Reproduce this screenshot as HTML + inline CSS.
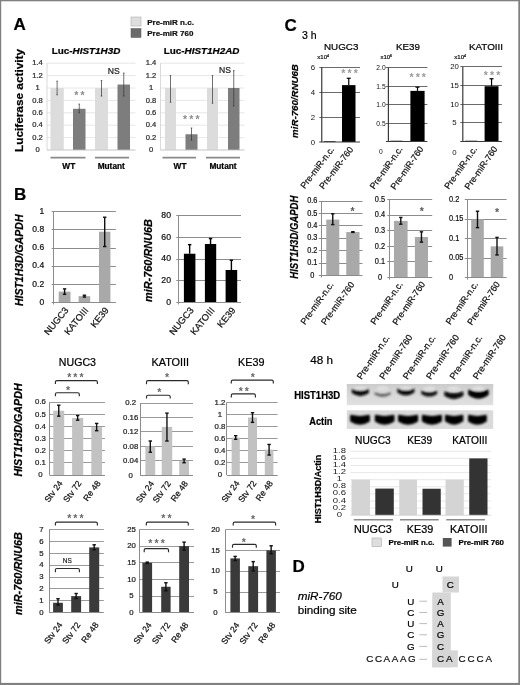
<!DOCTYPE html>
<html lang="en"><head><meta charset="utf-8"><title>Figure</title>
<style>html,body{margin:0;padding:0;background:#fff}svg{display:block}</style></head>
<body>
<svg width="520" height="685" viewBox="0 0 520 685" font-family='"Liberation Sans", sans-serif'>
<defs><filter id="b1" x="-20%" y="-50%" width="140%" height="200%"><feGaussianBlur stdDeviation="1.1"/></filter><filter id="b2" x="-20%" y="-50%" width="140%" height="200%"><feGaussianBlur stdDeviation="0.8"/></filter></defs>
<rect x="0.00" y="0.00" width="520.00" height="685.00" fill="#fff" />
<rect x="0.00" y="0.00" width="520.00" height="1.30" fill="#808080" />
<rect x="0.00" y="0.00" width="1.20" height="685.00" fill="#808080" />
<rect x="518.30" y="0.00" width="1.70" height="685.00" fill="#808080" />
<rect x="0.00" y="682.90" width="520.00" height="2.10" fill="#808080" />
<text x="13.50" y="29.50" font-size="17" text-anchor="start" fill="#000" stroke="#000" stroke-width="0.22" font-weight="bold" >A</text>
<rect x="131.00" y="17.00" width="10.00" height="9.00" fill="#dedede" stroke="#b0b0b0" stroke-width="0.6" />
<rect x="131.00" y="28.50" width="10.00" height="9.00" fill="#6b6b6b" stroke="#5a5a5a" stroke-width="0.5" />
<text x="147.20" y="24.50" font-size="8" text-anchor="start" fill="#111" stroke="#111" stroke-width="0.22" font-weight="bold" >Pre-miR n.c.</text>
<text x="147.20" y="36.10" font-size="8" text-anchor="start" fill="#111" stroke="#111" stroke-width="0.22" font-weight="bold" >Pre-miR 760</text>
<text x="22.70" y="100.50" font-size="11.8" text-anchor="middle" fill="#000" stroke="#000" stroke-width="0.22" font-weight="bold" transform="rotate(-90 22.70 100.50)" >Luciferase activity</text>
<line x1="47.00" y1="150.00" x2="135.50" y2="150.00" stroke="#e0e0e0" stroke-width="0.8" />
<text x="37.50" y="152.20" font-size="7.6" text-anchor="middle" fill="#2a2a2a" stroke="#2a2a2a" stroke-width="0.22" >0</text>
<line x1="47.00" y1="137.60" x2="135.50" y2="137.60" stroke="#e0e0e0" stroke-width="0.8" />
<text x="37.50" y="139.80" font-size="7.6" text-anchor="middle" fill="#2a2a2a" stroke="#2a2a2a" stroke-width="0.22" >0.2</text>
<line x1="47.00" y1="125.20" x2="135.50" y2="125.20" stroke="#e0e0e0" stroke-width="0.8" />
<text x="37.50" y="127.40" font-size="7.6" text-anchor="middle" fill="#2a2a2a" stroke="#2a2a2a" stroke-width="0.22" >0.4</text>
<line x1="47.00" y1="112.80" x2="135.50" y2="112.80" stroke="#e0e0e0" stroke-width="0.8" />
<text x="37.50" y="115.00" font-size="7.6" text-anchor="middle" fill="#2a2a2a" stroke="#2a2a2a" stroke-width="0.22" >0.6</text>
<line x1="47.00" y1="100.40" x2="135.50" y2="100.40" stroke="#e0e0e0" stroke-width="0.8" />
<text x="37.50" y="102.60" font-size="7.6" text-anchor="middle" fill="#2a2a2a" stroke="#2a2a2a" stroke-width="0.22" >0.8</text>
<line x1="47.00" y1="88.00" x2="135.50" y2="88.00" stroke="#e0e0e0" stroke-width="0.8" />
<text x="37.50" y="90.20" font-size="7.6" text-anchor="middle" fill="#2a2a2a" stroke="#2a2a2a" stroke-width="0.22" >1</text>
<line x1="47.00" y1="75.60" x2="135.50" y2="75.60" stroke="#e0e0e0" stroke-width="0.8" />
<text x="37.50" y="77.80" font-size="7.6" text-anchor="middle" fill="#2a2a2a" stroke="#2a2a2a" stroke-width="0.22" >1.2</text>
<line x1="47.00" y1="63.20" x2="135.50" y2="63.20" stroke="#e0e0e0" stroke-width="0.8" />
<text x="37.50" y="65.40" font-size="7.6" text-anchor="middle" fill="#2a2a2a" stroke="#2a2a2a" stroke-width="0.22" >1.4</text>
<line x1="47.00" y1="63.20" x2="47.00" y2="150.00" stroke="#d0d0d0" stroke-width="0.8" />
<rect x="50.50" y="88.00" width="13.25" height="62.00" fill="#dcdcdc" />
<line x1="57.12" y1="81.18" x2="57.12" y2="94.82" stroke="#333" stroke-width="0.7" />
<line x1="56.33" y1="81.18" x2="57.92" y2="81.18" stroke="#333" stroke-width="0.7" />
<line x1="56.33" y1="94.82" x2="57.92" y2="94.82" stroke="#333" stroke-width="0.7" />
<rect x="73.00" y="108.77" width="12.50" height="41.23" fill="#7d7d7d" />
<line x1="79.25" y1="104.12" x2="79.25" y2="112.80" stroke="#333" stroke-width="0.7" />
<line x1="78.45" y1="104.12" x2="80.05" y2="104.12" stroke="#333" stroke-width="0.7" />
<line x1="78.45" y1="112.80" x2="80.05" y2="112.80" stroke="#333" stroke-width="0.7" />
<rect x="95.00" y="88.00" width="13.00" height="62.00" fill="#dcdcdc" />
<line x1="101.50" y1="80.56" x2="101.50" y2="96.06" stroke="#333" stroke-width="0.7" />
<line x1="100.70" y1="80.56" x2="102.30" y2="80.56" stroke="#333" stroke-width="0.7" />
<line x1="100.70" y1="96.06" x2="102.30" y2="96.06" stroke="#333" stroke-width="0.7" />
<rect x="117.50" y="84.53" width="12.50" height="65.47" fill="#7d7d7d" />
<line x1="123.75" y1="73.12" x2="123.75" y2="96.06" stroke="#333" stroke-width="0.7" />
<line x1="122.95" y1="73.12" x2="124.55" y2="73.12" stroke="#333" stroke-width="0.7" />
<line x1="122.95" y1="96.06" x2="124.55" y2="96.06" stroke="#333" stroke-width="0.7" />
<line x1="47.00" y1="150.00" x2="135.50" y2="150.00" stroke="#c8c8c8" stroke-width="0.8" />
<text x="86.00" y="54.30" font-size="9.9" text-anchor="middle" fill="#000" stroke="#000" stroke-width="0.22" font-weight="bold" >Luc-<tspan font-style="italic">HIST1H3D</tspan></text>
<line x1="50.50" y1="157.60" x2="85.50" y2="157.60" stroke="#8a8a8a" stroke-width="1.6" />
<line x1="95.00" y1="157.60" x2="129.00" y2="157.60" stroke="#8a8a8a" stroke-width="1.6" />
<text x="68.75" y="169.00" font-size="8.3" text-anchor="middle" fill="#000" stroke="#000" stroke-width="0.22" font-weight="bold" >WT</text>
<text x="111.25" y="169.00" font-size="8.3" text-anchor="middle" fill="#000" stroke="#000" stroke-width="0.22" font-weight="bold" >Mutant</text>
<text x="113.70" y="73.60" font-size="8.6" text-anchor="middle" fill="#222" stroke="#222" stroke-width="0.22" >NS</text>
<text x="80.55" y="99.31" font-size="10.5" text-anchor="middle" fill="#8a8a8a" font-weight="bold" letter-spacing="2.1" stroke-width="0">**</text>
<line x1="160.50" y1="150.00" x2="244.50" y2="150.00" stroke="#e0e0e0" stroke-width="0.8" />
<text x="151.00" y="152.20" font-size="7.6" text-anchor="middle" fill="#2a2a2a" stroke="#2a2a2a" stroke-width="0.22" >0</text>
<line x1="160.50" y1="137.60" x2="244.50" y2="137.60" stroke="#e0e0e0" stroke-width="0.8" />
<text x="151.00" y="139.80" font-size="7.6" text-anchor="middle" fill="#2a2a2a" stroke="#2a2a2a" stroke-width="0.22" >0.2</text>
<line x1="160.50" y1="125.20" x2="244.50" y2="125.20" stroke="#e0e0e0" stroke-width="0.8" />
<text x="151.00" y="127.40" font-size="7.6" text-anchor="middle" fill="#2a2a2a" stroke="#2a2a2a" stroke-width="0.22" >0.4</text>
<line x1="160.50" y1="112.80" x2="244.50" y2="112.80" stroke="#e0e0e0" stroke-width="0.8" />
<text x="151.00" y="115.00" font-size="7.6" text-anchor="middle" fill="#2a2a2a" stroke="#2a2a2a" stroke-width="0.22" >0.6</text>
<line x1="160.50" y1="100.40" x2="244.50" y2="100.40" stroke="#e0e0e0" stroke-width="0.8" />
<text x="151.00" y="102.60" font-size="7.6" text-anchor="middle" fill="#2a2a2a" stroke="#2a2a2a" stroke-width="0.22" >0.8</text>
<line x1="160.50" y1="88.00" x2="244.50" y2="88.00" stroke="#e0e0e0" stroke-width="0.8" />
<text x="151.00" y="90.20" font-size="7.6" text-anchor="middle" fill="#2a2a2a" stroke="#2a2a2a" stroke-width="0.22" >1</text>
<line x1="160.50" y1="75.60" x2="244.50" y2="75.60" stroke="#e0e0e0" stroke-width="0.8" />
<text x="151.00" y="77.80" font-size="7.6" text-anchor="middle" fill="#2a2a2a" stroke="#2a2a2a" stroke-width="0.22" >1.2</text>
<line x1="160.50" y1="63.20" x2="244.50" y2="63.20" stroke="#e0e0e0" stroke-width="0.8" />
<text x="151.00" y="65.40" font-size="7.6" text-anchor="middle" fill="#2a2a2a" stroke="#2a2a2a" stroke-width="0.22" >1.4</text>
<line x1="160.50" y1="63.20" x2="160.50" y2="150.00" stroke="#d0d0d0" stroke-width="0.8" />
<rect x="165.00" y="88.00" width="11.00" height="62.00" fill="#dcdcdc" />
<line x1="170.50" y1="75.60" x2="170.50" y2="102.26" stroke="#333" stroke-width="0.7" />
<line x1="169.70" y1="75.60" x2="171.30" y2="75.60" stroke="#333" stroke-width="0.7" />
<line x1="169.70" y1="102.26" x2="171.30" y2="102.26" stroke="#333" stroke-width="0.7" />
<rect x="185.50" y="134.25" width="12.00" height="15.75" fill="#7d7d7d" />
<line x1="191.50" y1="127.99" x2="191.50" y2="140.08" stroke="#333" stroke-width="0.7" />
<line x1="190.70" y1="127.99" x2="192.30" y2="127.99" stroke="#333" stroke-width="0.7" />
<line x1="190.70" y1="140.08" x2="192.30" y2="140.08" stroke="#333" stroke-width="0.7" />
<rect x="207.00" y="88.00" width="11.00" height="62.00" fill="#dcdcdc" />
<line x1="212.50" y1="75.60" x2="212.50" y2="103.19" stroke="#333" stroke-width="0.7" />
<line x1="211.70" y1="75.60" x2="213.30" y2="75.60" stroke="#333" stroke-width="0.7" />
<line x1="211.70" y1="103.19" x2="213.30" y2="103.19" stroke="#333" stroke-width="0.7" />
<rect x="228.00" y="88.00" width="11.50" height="62.00" fill="#7d7d7d" />
<line x1="233.75" y1="70.64" x2="233.75" y2="105.98" stroke="#333" stroke-width="0.7" />
<line x1="232.95" y1="70.64" x2="234.55" y2="70.64" stroke="#333" stroke-width="0.7" />
<line x1="232.95" y1="105.98" x2="234.55" y2="105.98" stroke="#333" stroke-width="0.7" />
<line x1="160.50" y1="150.00" x2="244.50" y2="150.00" stroke="#c8c8c8" stroke-width="0.8" />
<text x="201.60" y="54.30" font-size="9.9" text-anchor="middle" fill="#000" stroke="#000" stroke-width="0.22" font-weight="bold" >Luc-<tspan font-style="italic">HIST1H2AD</tspan></text>
<line x1="162.50" y1="157.60" x2="196.00" y2="157.60" stroke="#8a8a8a" stroke-width="1.6" />
<line x1="206.00" y1="157.60" x2="240.00" y2="157.60" stroke="#8a8a8a" stroke-width="1.6" />
<text x="180.00" y="169.00" font-size="8.3" text-anchor="middle" fill="#000" stroke="#000" stroke-width="0.22" font-weight="bold" >WT</text>
<text x="223.00" y="169.00" font-size="8.3" text-anchor="middle" fill="#000" stroke="#000" stroke-width="0.22" font-weight="bold" >Mutant</text>
<text x="225.00" y="73.10" font-size="8.6" text-anchor="middle" fill="#222" stroke="#222" stroke-width="0.22" >NS</text>
<text x="192.30" y="123.06" font-size="10.5" text-anchor="middle" fill="#8a8a8a" font-weight="bold" letter-spacing="2.1" stroke-width="0">***</text>
<text x="14.00" y="200.20" font-size="17" text-anchor="start" fill="#000" stroke="#000" stroke-width="0.22" font-weight="bold" >B</text>
<text x="23.20" y="260.30" font-size="10.5" text-anchor="middle" fill="#000" stroke="#000" stroke-width="0.22" font-weight="bold" font-style="italic" transform="rotate(-90 23.20 260.30)" >HIST1H3D/GAPDH</text>
<text x="44.20" y="304.70" font-size="8.5" text-anchor="end" fill="#111" stroke="#111" stroke-width="0.22" >0</text>
<line x1="51.70" y1="284.50" x2="115.80" y2="284.50" stroke="#8c8c8c" stroke-width="1.0" />
<text x="44.20" y="286.56" font-size="8.5" text-anchor="end" fill="#111" stroke="#111" stroke-width="0.22" >0.2</text>
<line x1="51.70" y1="266.50" x2="115.80" y2="266.50" stroke="#8c8c8c" stroke-width="1.0" />
<text x="44.20" y="268.42" font-size="8.5" text-anchor="end" fill="#111" stroke="#111" stroke-width="0.22" >0.4</text>
<line x1="51.70" y1="248.50" x2="115.80" y2="248.50" stroke="#8c8c8c" stroke-width="1.0" />
<text x="44.20" y="250.28" font-size="8.5" text-anchor="end" fill="#111" stroke="#111" stroke-width="0.22" >0.6</text>
<line x1="51.70" y1="229.50" x2="115.80" y2="229.50" stroke="#8c8c8c" stroke-width="1.0" />
<text x="44.20" y="232.14" font-size="8.5" text-anchor="end" fill="#111" stroke="#111" stroke-width="0.22" >0.8</text>
<line x1="51.70" y1="211.50" x2="115.80" y2="211.50" stroke="#8c8c8c" stroke-width="1.0" />
<text x="44.20" y="214.00" font-size="8.5" text-anchor="end" fill="#111" stroke="#111" stroke-width="0.22" >1</text>
<rect x="58.70" y="291.62" width="11.80" height="10.88" fill="#a9a9a9" />
<line x1="64.60" y1="288.89" x2="64.60" y2="294.34" stroke="#111" stroke-width="1.4" />
<line x1="62.90" y1="288.89" x2="66.30" y2="288.89" stroke="#111" stroke-width="1.4" />
<line x1="62.90" y1="294.34" x2="66.30" y2="294.34" stroke="#111" stroke-width="1.4" />
<text x="69.10" y="310.50" font-size="9.3" text-anchor="end" fill="#111" stroke="#111" stroke-width="0.22" transform="rotate(-51 69.10 310.50)" >NUGC3</text>
<rect x="78.60" y="296.15" width="11.60" height="6.35" fill="#a9a9a9" />
<line x1="84.40" y1="295.24" x2="84.40" y2="297.06" stroke="#111" stroke-width="1.4" />
<line x1="82.70" y1="295.24" x2="86.10" y2="295.24" stroke="#111" stroke-width="1.4" />
<line x1="82.70" y1="297.06" x2="86.10" y2="297.06" stroke="#111" stroke-width="1.4" />
<text x="88.90" y="310.50" font-size="9.3" text-anchor="end" fill="#111" stroke="#111" stroke-width="0.22" transform="rotate(-51 88.90 310.50)" >KATOIII</text>
<rect x="99.00" y="231.75" width="11.40" height="70.75" fill="#a9a9a9" />
<line x1="104.70" y1="217.24" x2="104.70" y2="246.54" stroke="#111" stroke-width="1.4" />
<line x1="103.00" y1="217.24" x2="106.40" y2="217.24" stroke="#111" stroke-width="1.4" />
<line x1="103.00" y1="246.54" x2="106.40" y2="246.54" stroke="#111" stroke-width="1.4" />
<text x="109.20" y="310.50" font-size="9.3" text-anchor="end" fill="#111" stroke="#111" stroke-width="0.22" transform="rotate(-51 109.20 310.50)" >KE39</text>
<line x1="53.50" y1="211.80" x2="53.50" y2="304.50" stroke="#8c8c8c" stroke-width="1.0" />
<line x1="51.70" y1="302.50" x2="115.80" y2="302.50" stroke="#8c8c8c" stroke-width="1.0" />
<text x="152.00" y="260.50" font-size="10.9" text-anchor="middle" fill="#000" stroke="#000" stroke-width="0.22" font-weight="bold" font-style="italic" transform="rotate(-90 152.00 260.50)" >miR-760/RNU6B</text>
<text x="171.00" y="304.70" font-size="8.7" text-anchor="end" fill="#111" stroke="#111" stroke-width="0.22" >0</text>
<line x1="176.30" y1="280.50" x2="241.00" y2="280.50" stroke="#8c8c8c" stroke-width="1.0" />
<text x="171.00" y="283.02" font-size="8.7" text-anchor="end" fill="#111" stroke="#111" stroke-width="0.22" >20</text>
<line x1="176.30" y1="259.50" x2="241.00" y2="259.50" stroke="#8c8c8c" stroke-width="1.0" />
<text x="171.00" y="261.35" font-size="8.7" text-anchor="end" fill="#111" stroke="#111" stroke-width="0.22" >40</text>
<line x1="176.30" y1="237.50" x2="241.00" y2="237.50" stroke="#8c8c8c" stroke-width="1.0" />
<text x="171.00" y="239.68" font-size="8.7" text-anchor="end" fill="#111" stroke="#111" stroke-width="0.22" >60</text>
<line x1="176.30" y1="215.50" x2="241.00" y2="215.50" stroke="#8c8c8c" stroke-width="1.0" />
<text x="171.00" y="218.00" font-size="8.7" text-anchor="end" fill="#111" stroke="#111" stroke-width="0.22" >80</text>
<rect x="183.90" y="253.73" width="11.50" height="48.77" fill="#000" />
<line x1="189.65" y1="244.63" x2="189.65" y2="253.73" stroke="#000" stroke-width="1.4" />
<line x1="187.95" y1="244.63" x2="191.35" y2="244.63" stroke="#000" stroke-width="1.4" />
<text x="194.15" y="310.50" font-size="9.3" text-anchor="end" fill="#111" stroke="#111" stroke-width="0.22" transform="rotate(-51 194.15 310.50)" >NUGC3</text>
<rect x="204.90" y="243.98" width="11.30" height="58.52" fill="#000" />
<line x1="210.55" y1="238.56" x2="210.55" y2="243.98" stroke="#000" stroke-width="1.4" />
<line x1="208.85" y1="238.56" x2="212.25" y2="238.56" stroke="#000" stroke-width="1.4" />
<text x="215.05" y="310.50" font-size="9.3" text-anchor="end" fill="#111" stroke="#111" stroke-width="0.22" transform="rotate(-51 215.05 310.50)" >KATOIII</text>
<rect x="225.60" y="269.99" width="11.60" height="32.51" fill="#000" />
<line x1="231.40" y1="260.23" x2="231.40" y2="269.99" stroke="#000" stroke-width="1.4" />
<line x1="229.70" y1="260.23" x2="233.10" y2="260.23" stroke="#000" stroke-width="1.4" />
<text x="235.90" y="310.50" font-size="9.3" text-anchor="end" fill="#111" stroke="#111" stroke-width="0.22" transform="rotate(-51 235.90 310.50)" >KE39</text>
<line x1="178.50" y1="215.80" x2="178.50" y2="304.50" stroke="#8c8c8c" stroke-width="1.0" />
<line x1="176.30" y1="302.50" x2="241.00" y2="302.50" stroke="#8c8c8c" stroke-width="1.0" />
<text x="77.40" y="366.00" font-size="10.6" text-anchor="middle" fill="#000" stroke="#000" stroke-width="0.22" >NUGC3</text>
<text x="170.30" y="366.00" font-size="10.9" text-anchor="middle" fill="#000" stroke="#000" stroke-width="0.22" >KATOIII</text>
<text x="251.30" y="366.00" font-size="10.8" text-anchor="middle" fill="#000" stroke="#000" stroke-width="0.22" >KE39</text>
<text x="22.00" y="430.00" font-size="10.7" text-anchor="middle" fill="#000" stroke="#000" stroke-width="0.22" font-weight="bold" font-style="italic" transform="rotate(-90 22.00 430.00)" >HIST1H3D/GAPDH</text>
<text x="40.50" y="477.20" font-size="7.8" text-anchor="middle" fill="#222" stroke="#222" stroke-width="0.22" >0</text>
<line x1="49.60" y1="462.50" x2="105.00" y2="462.50" stroke="#9a9a9a" stroke-width="1.0" />
<text x="40.50" y="465.07" font-size="7.8" text-anchor="middle" fill="#222" stroke="#222" stroke-width="0.22" >0.1</text>
<line x1="49.60" y1="450.50" x2="105.00" y2="450.50" stroke="#9a9a9a" stroke-width="1.0" />
<text x="40.50" y="452.93" font-size="7.8" text-anchor="middle" fill="#222" stroke="#222" stroke-width="0.22" >0.2</text>
<line x1="49.60" y1="438.50" x2="105.00" y2="438.50" stroke="#9a9a9a" stroke-width="1.0" />
<text x="40.50" y="440.80" font-size="7.8" text-anchor="middle" fill="#222" stroke="#222" stroke-width="0.22" >0.3</text>
<line x1="49.60" y1="426.50" x2="105.00" y2="426.50" stroke="#9a9a9a" stroke-width="1.0" />
<text x="40.50" y="428.67" font-size="7.8" text-anchor="middle" fill="#222" stroke="#222" stroke-width="0.22" >0.4</text>
<line x1="49.60" y1="414.50" x2="105.00" y2="414.50" stroke="#9a9a9a" stroke-width="1.0" />
<text x="40.50" y="416.53" font-size="7.8" text-anchor="middle" fill="#222" stroke="#222" stroke-width="0.22" >0.5</text>
<line x1="49.60" y1="402.50" x2="105.00" y2="402.50" stroke="#9a9a9a" stroke-width="1.0" />
<text x="40.50" y="404.40" font-size="7.8" text-anchor="middle" fill="#222" stroke="#222" stroke-width="0.22" >0.6</text>
<rect x="53.30" y="410.69" width="10.90" height="64.31" fill="#c2c2c2" />
<line x1="58.75" y1="405.23" x2="58.75" y2="416.15" stroke="#111" stroke-width="1.4" />
<line x1="57.05" y1="405.23" x2="60.45" y2="405.23" stroke="#111" stroke-width="1.4" />
<line x1="57.05" y1="416.15" x2="60.45" y2="416.15" stroke="#111" stroke-width="1.4" />
<text x="63.05" y="483.30" font-size="8.6" text-anchor="end" fill="#111" stroke="#111" stroke-width="0.22" transform="rotate(-54 63.05 483.30)" >Stv 24</text>
<rect x="72.10" y="417.97" width="11.10" height="57.03" fill="#c2c2c2" />
<line x1="77.65" y1="415.55" x2="77.65" y2="420.16" stroke="#111" stroke-width="1.4" />
<line x1="75.95" y1="415.55" x2="79.35" y2="415.55" stroke="#111" stroke-width="1.4" />
<line x1="75.95" y1="420.16" x2="79.35" y2="420.16" stroke="#111" stroke-width="1.4" />
<text x="81.95" y="483.30" font-size="8.6" text-anchor="end" fill="#111" stroke="#111" stroke-width="0.22" transform="rotate(-54 81.95 483.30)" >Stv 72</text>
<rect x="91.30" y="427.07" width="10.70" height="47.93" fill="#c2c2c2" />
<line x1="96.65" y1="423.43" x2="96.65" y2="430.71" stroke="#111" stroke-width="1.4" />
<line x1="94.95" y1="423.43" x2="98.35" y2="423.43" stroke="#111" stroke-width="1.4" />
<line x1="94.95" y1="430.71" x2="98.35" y2="430.71" stroke="#111" stroke-width="1.4" />
<text x="100.95" y="483.30" font-size="8.6" text-anchor="end" fill="#111" stroke="#111" stroke-width="0.22" transform="rotate(-54 100.95 483.30)" >Re 48</text>
<line x1="49.50" y1="402.20" x2="49.50" y2="475.00" stroke="#8c8c8c" stroke-width="1.0" />
<line x1="49.60" y1="475.50" x2="105.00" y2="475.50" stroke="#8c8c8c" stroke-width="1.0" />
<path d="M55.40 384.10 V382.10 Q55.40 380.60 56.90 380.60 H95.90 Q97.40 380.60 97.40 382.10 V384.10" fill="none" stroke="#2a2a2a" stroke-width="1.15"/>
<text x="76.45" y="380.96" font-size="10.5" text-anchor="middle" fill="#666" font-weight="bold" letter-spacing="2.1" stroke-width="0">***</text>
<path d="M55.40 396.20 V394.20 Q55.40 392.70 56.90 392.70 H77.80 Q79.30 392.70 79.30 394.20 V396.20" fill="none" stroke="#2a2a2a" stroke-width="1.15"/>
<text x="69.15" y="393.96" font-size="10.5" text-anchor="middle" fill="#666" font-weight="bold" letter-spacing="2.1" stroke-width="0">*</text>
<text x="130.70" y="477.60" font-size="7.8" text-anchor="middle" fill="#222" stroke="#222" stroke-width="0.22" >0</text>
<line x1="140.20" y1="460.50" x2="193.00" y2="460.50" stroke="#9a9a9a" stroke-width="1.0" />
<text x="130.70" y="463.12" font-size="7.8" text-anchor="middle" fill="#222" stroke="#222" stroke-width="0.22" >0.04</text>
<line x1="140.20" y1="446.50" x2="193.00" y2="446.50" stroke="#9a9a9a" stroke-width="1.0" />
<text x="130.70" y="448.64" font-size="7.8" text-anchor="middle" fill="#222" stroke="#222" stroke-width="0.22" >0.08</text>
<line x1="140.20" y1="431.50" x2="193.00" y2="431.50" stroke="#9a9a9a" stroke-width="1.0" />
<text x="130.70" y="434.16" font-size="7.8" text-anchor="middle" fill="#222" stroke="#222" stroke-width="0.22" >0.12</text>
<line x1="140.20" y1="417.50" x2="193.00" y2="417.50" stroke="#9a9a9a" stroke-width="1.0" />
<text x="130.70" y="419.68" font-size="7.8" text-anchor="middle" fill="#222" stroke="#222" stroke-width="0.22" >0.16</text>
<line x1="140.20" y1="403.50" x2="193.00" y2="403.50" stroke="#9a9a9a" stroke-width="1.0" />
<text x="130.70" y="405.20" font-size="7.8" text-anchor="middle" fill="#222" stroke="#222" stroke-width="0.22" >0.2</text>
<rect x="145.40" y="446.44" width="9.80" height="28.96" fill="#c2c2c2" />
<line x1="150.30" y1="441.01" x2="150.30" y2="452.23" stroke="#111" stroke-width="1.4" />
<line x1="148.60" y1="441.01" x2="152.00" y2="441.01" stroke="#111" stroke-width="1.4" />
<line x1="148.60" y1="452.23" x2="152.00" y2="452.23" stroke="#111" stroke-width="1.4" />
<text x="154.60" y="483.70" font-size="8.6" text-anchor="end" fill="#111" stroke="#111" stroke-width="0.22" transform="rotate(-54 154.60 483.70)" >Stv 24</text>
<rect x="161.70" y="426.89" width="10.50" height="48.51" fill="#c2c2c2" />
<line x1="166.95" y1="413.14" x2="166.95" y2="441.01" stroke="#111" stroke-width="1.4" />
<line x1="165.25" y1="413.14" x2="168.65" y2="413.14" stroke="#111" stroke-width="1.4" />
<line x1="165.25" y1="441.01" x2="168.65" y2="441.01" stroke="#111" stroke-width="1.4" />
<text x="171.25" y="483.70" font-size="8.6" text-anchor="end" fill="#111" stroke="#111" stroke-width="0.22" transform="rotate(-54 171.25 483.70)" >Stv 72</text>
<rect x="179.20" y="460.92" width="9.80" height="14.48" fill="#c2c2c2" />
<line x1="184.10" y1="459.11" x2="184.10" y2="462.73" stroke="#111" stroke-width="1.4" />
<line x1="182.40" y1="459.11" x2="185.80" y2="459.11" stroke="#111" stroke-width="1.4" />
<line x1="182.40" y1="462.73" x2="185.80" y2="462.73" stroke="#111" stroke-width="1.4" />
<text x="188.40" y="483.70" font-size="8.6" text-anchor="end" fill="#111" stroke="#111" stroke-width="0.22" transform="rotate(-54 188.40 483.70)" >Re 48</text>
<line x1="140.50" y1="403.00" x2="140.50" y2="475.40" stroke="#8c8c8c" stroke-width="1.0" />
<line x1="140.20" y1="475.50" x2="193.00" y2="475.50" stroke="#8c8c8c" stroke-width="1.0" />
<path d="M146.50 384.20 V382.10 Q146.50 380.60 148.00 380.60 H186.80 Q188.30 380.60 188.30 382.10 V384.20" fill="none" stroke="#2a2a2a" stroke-width="1.15"/>
<text x="168.15" y="380.96" font-size="10.5" text-anchor="middle" fill="#666" font-weight="bold" letter-spacing="2.1" stroke-width="0">*</text>
<path d="M146.50 398.50 V396.70 Q146.50 395.20 148.00 395.20 H168.70 Q170.20 395.20 170.20 396.70 V398.50" fill="none" stroke="#2a2a2a" stroke-width="1.15"/>
<text x="160.45" y="395.76" font-size="10.5" text-anchor="middle" fill="#666" font-weight="bold" letter-spacing="2.1" stroke-width="0">*</text>
<text x="220.00" y="477.20" font-size="7.8" text-anchor="middle" fill="#222" stroke="#222" stroke-width="0.22" >0</text>
<line x1="226.90" y1="462.50" x2="277.60" y2="462.50" stroke="#9a9a9a" stroke-width="1.0" />
<text x="220.00" y="465.10" font-size="7.8" text-anchor="middle" fill="#222" stroke="#222" stroke-width="0.22" >0.2</text>
<line x1="226.90" y1="450.50" x2="277.60" y2="450.50" stroke="#9a9a9a" stroke-width="1.0" />
<text x="220.00" y="453.00" font-size="7.8" text-anchor="middle" fill="#222" stroke="#222" stroke-width="0.22" >0.4</text>
<line x1="226.90" y1="438.50" x2="277.60" y2="438.50" stroke="#9a9a9a" stroke-width="1.0" />
<text x="220.00" y="440.90" font-size="7.8" text-anchor="middle" fill="#222" stroke="#222" stroke-width="0.22" >0.6</text>
<line x1="226.90" y1="426.50" x2="277.60" y2="426.50" stroke="#9a9a9a" stroke-width="1.0" />
<text x="220.00" y="428.80" font-size="7.8" text-anchor="middle" fill="#222" stroke="#222" stroke-width="0.22" >0.8</text>
<line x1="226.90" y1="414.50" x2="277.60" y2="414.50" stroke="#9a9a9a" stroke-width="1.0" />
<text x="220.00" y="416.70" font-size="7.8" text-anchor="middle" fill="#222" stroke="#222" stroke-width="0.22" >1</text>
<line x1="226.90" y1="402.50" x2="277.60" y2="402.50" stroke="#9a9a9a" stroke-width="1.0" />
<text x="220.00" y="404.60" font-size="7.8" text-anchor="middle" fill="#222" stroke="#222" stroke-width="0.22" >1.2</text>
<rect x="231.60" y="437.49" width="8.20" height="37.51" fill="#c2c2c2" />
<line x1="235.70" y1="435.67" x2="235.70" y2="439.31" stroke="#111" stroke-width="1.4" />
<line x1="234.00" y1="435.67" x2="237.40" y2="435.67" stroke="#111" stroke-width="1.4" />
<line x1="234.00" y1="439.31" x2="237.40" y2="439.31" stroke="#111" stroke-width="1.4" />
<text x="240.00" y="483.30" font-size="8.6" text-anchor="end" fill="#111" stroke="#111" stroke-width="0.22" transform="rotate(-54 240.00 483.30)" >Stv 24</text>
<rect x="248.00" y="417.52" width="9.00" height="57.48" fill="#c2c2c2" />
<line x1="252.50" y1="412.68" x2="252.50" y2="422.37" stroke="#111" stroke-width="1.4" />
<line x1="250.80" y1="412.68" x2="254.20" y2="412.68" stroke="#111" stroke-width="1.4" />
<line x1="250.80" y1="422.37" x2="254.20" y2="422.37" stroke="#111" stroke-width="1.4" />
<text x="256.80" y="483.30" font-size="8.6" text-anchor="end" fill="#111" stroke="#111" stroke-width="0.22" transform="rotate(-54 256.80 483.30)" >Stv 72</text>
<rect x="264.80" y="449.59" width="8.60" height="25.41" fill="#c2c2c2" />
<line x1="269.10" y1="444.45" x2="269.10" y2="455.03" stroke="#111" stroke-width="1.4" />
<line x1="267.40" y1="444.45" x2="270.80" y2="444.45" stroke="#111" stroke-width="1.4" />
<line x1="267.40" y1="455.03" x2="270.80" y2="455.03" stroke="#111" stroke-width="1.4" />
<text x="273.40" y="483.30" font-size="8.6" text-anchor="end" fill="#111" stroke="#111" stroke-width="0.22" transform="rotate(-54 273.40 483.30)" >Re 48</text>
<line x1="226.50" y1="402.40" x2="226.50" y2="475.00" stroke="#8c8c8c" stroke-width="1.0" />
<line x1="226.90" y1="475.50" x2="277.60" y2="475.50" stroke="#8c8c8c" stroke-width="1.0" />
<path d="M231.30 383.60 V381.60 Q231.30 380.10 232.80 380.10 H271.80 Q273.30 380.10 273.30 381.60 V383.60" fill="none" stroke="#2a2a2a" stroke-width="1.15"/>
<text x="253.95" y="380.96" font-size="10.5" text-anchor="middle" fill="#666" font-weight="bold" letter-spacing="2.1" stroke-width="0">*</text>
<path d="M231.30 397.50 V395.40 Q231.30 393.90 232.80 393.90 H253.90 Q255.40 393.90 255.40 395.40 V397.50" fill="none" stroke="#2a2a2a" stroke-width="1.15"/>
<text x="244.85" y="395.06" font-size="10.5" text-anchor="middle" fill="#666" font-weight="bold" letter-spacing="2.1" stroke-width="0">**</text>
<text x="22.00" y="573.50" font-size="10.9" text-anchor="middle" fill="#000" stroke="#000" stroke-width="0.22" font-weight="bold" font-style="italic" transform="rotate(-90 22.00 573.50)" >miR-760/RNU6B</text>
<text x="41.50" y="614.80" font-size="7.8" text-anchor="middle" fill="#222" stroke="#222" stroke-width="0.22" >0</text>
<line x1="49.00" y1="600.50" x2="103.80" y2="600.50" stroke="#9a9a9a" stroke-width="1.0" />
<text x="41.50" y="602.94" font-size="7.8" text-anchor="middle" fill="#222" stroke="#222" stroke-width="0.22" >1</text>
<line x1="49.00" y1="588.50" x2="103.80" y2="588.50" stroke="#9a9a9a" stroke-width="1.0" />
<text x="41.50" y="591.09" font-size="7.8" text-anchor="middle" fill="#222" stroke="#222" stroke-width="0.22" >2</text>
<line x1="49.00" y1="577.50" x2="103.80" y2="577.50" stroke="#9a9a9a" stroke-width="1.0" />
<text x="41.50" y="579.23" font-size="7.8" text-anchor="middle" fill="#222" stroke="#222" stroke-width="0.22" >3</text>
<line x1="49.00" y1="565.50" x2="103.80" y2="565.50" stroke="#9a9a9a" stroke-width="1.0" />
<text x="41.50" y="567.37" font-size="7.8" text-anchor="middle" fill="#222" stroke="#222" stroke-width="0.22" >4</text>
<line x1="49.00" y1="553.50" x2="103.80" y2="553.50" stroke="#9a9a9a" stroke-width="1.0" />
<text x="41.50" y="555.51" font-size="7.8" text-anchor="middle" fill="#222" stroke="#222" stroke-width="0.22" >5</text>
<line x1="49.00" y1="541.50" x2="103.80" y2="541.50" stroke="#9a9a9a" stroke-width="1.0" />
<text x="41.50" y="543.66" font-size="7.8" text-anchor="middle" fill="#222" stroke="#222" stroke-width="0.22" >6</text>
<line x1="49.00" y1="529.50" x2="103.80" y2="529.50" stroke="#9a9a9a" stroke-width="1.0" />
<text x="41.50" y="531.80" font-size="7.8" text-anchor="middle" fill="#222" stroke="#222" stroke-width="0.22" >7</text>
<rect x="53.10" y="602.76" width="9.80" height="9.84" fill="#3a3a3a" />
<line x1="58.00" y1="598.73" x2="58.00" y2="605.01" stroke="#111" stroke-width="1.4" />
<line x1="56.30" y1="598.73" x2="59.70" y2="598.73" stroke="#111" stroke-width="1.4" />
<line x1="56.30" y1="605.01" x2="59.70" y2="605.01" stroke="#111" stroke-width="1.4" />
<text x="62.80" y="624.90" font-size="8.6" text-anchor="end" fill="#111" stroke="#111" stroke-width="0.22" transform="rotate(-54 62.80 624.90)" >Stv 24</text>
<rect x="71.20" y="596.12" width="9.90" height="16.48" fill="#3a3a3a" />
<line x1="76.15" y1="593.51" x2="76.15" y2="598.49" stroke="#111" stroke-width="1.4" />
<line x1="74.45" y1="593.51" x2="77.85" y2="593.51" stroke="#111" stroke-width="1.4" />
<line x1="74.45" y1="598.49" x2="77.85" y2="598.49" stroke="#111" stroke-width="1.4" />
<text x="80.95" y="624.90" font-size="8.6" text-anchor="end" fill="#111" stroke="#111" stroke-width="0.22" transform="rotate(-54 80.95 624.90)" >Stv 72</text>
<rect x="89.20" y="547.39" width="10.00" height="65.21" fill="#3a3a3a" />
<line x1="94.20" y1="544.78" x2="94.20" y2="549.76" stroke="#111" stroke-width="1.4" />
<line x1="92.50" y1="544.78" x2="95.90" y2="544.78" stroke="#111" stroke-width="1.4" />
<line x1="92.50" y1="549.76" x2="95.90" y2="549.76" stroke="#111" stroke-width="1.4" />
<text x="99.00" y="624.90" font-size="8.6" text-anchor="end" fill="#111" stroke="#111" stroke-width="0.22" transform="rotate(-54 99.00 624.90)" >Re 48</text>
<line x1="49.50" y1="529.60" x2="49.50" y2="612.60" stroke="#8c8c8c" stroke-width="1.0" />
<line x1="49.00" y1="612.50" x2="103.80" y2="612.50" stroke="#8c8c8c" stroke-width="1.0" />
<path d="M55.40 525.60 V523.60 Q55.40 522.10 56.90 522.10 H95.90 Q97.40 522.10 97.40 523.60 V525.60" fill="none" stroke="#2a2a2a" stroke-width="1.15"/>
<text x="76.45" y="522.47" font-size="10.5" text-anchor="middle" fill="#666" font-weight="bold" letter-spacing="2.1" stroke-width="0">***</text>
<path d="M55.40 572.20 V570.00 Q55.40 568.50 56.90 568.50 H77.90 Q79.40 568.50 79.40 570.00 V572.20" fill="none" stroke="#2a2a2a" stroke-width="1.15"/>
<text x="67.30" y="563.30" font-size="7.7" text-anchor="middle" fill="#222" stroke="#222" stroke-width="0.22" textLength="9" lengthAdjust="spacingAndGlyphs">NS</text>
<text x="131.50" y="614.90" font-size="7.8" text-anchor="middle" fill="#222" stroke="#222" stroke-width="0.22" >0</text>
<line x1="139.40" y1="596.50" x2="194.00" y2="596.50" stroke="#9a9a9a" stroke-width="1.0" />
<text x="131.50" y="598.26" font-size="7.8" text-anchor="middle" fill="#222" stroke="#222" stroke-width="0.22" >5</text>
<line x1="139.40" y1="579.50" x2="194.00" y2="579.50" stroke="#9a9a9a" stroke-width="1.0" />
<text x="131.50" y="581.62" font-size="7.8" text-anchor="middle" fill="#222" stroke="#222" stroke-width="0.22" >10</text>
<line x1="139.40" y1="562.50" x2="194.00" y2="562.50" stroke="#9a9a9a" stroke-width="1.0" />
<text x="131.50" y="564.98" font-size="7.8" text-anchor="middle" fill="#222" stroke="#222" stroke-width="0.22" >15</text>
<line x1="139.40" y1="546.50" x2="194.00" y2="546.50" stroke="#9a9a9a" stroke-width="1.0" />
<text x="131.50" y="548.34" font-size="7.8" text-anchor="middle" fill="#222" stroke="#222" stroke-width="0.22" >20</text>
<line x1="139.40" y1="529.50" x2="194.00" y2="529.50" stroke="#9a9a9a" stroke-width="1.0" />
<text x="131.50" y="531.70" font-size="7.8" text-anchor="middle" fill="#222" stroke="#222" stroke-width="0.22" >25</text>
<rect x="142.40" y="562.78" width="9.70" height="49.92" fill="#3a3a3a" />
<line x1="147.25" y1="562.11" x2="147.25" y2="563.45" stroke="#111" stroke-width="1.4" />
<line x1="145.55" y1="562.11" x2="148.95" y2="562.11" stroke="#111" stroke-width="1.4" />
<line x1="145.55" y1="563.45" x2="148.95" y2="563.45" stroke="#111" stroke-width="1.4" />
<text x="152.05" y="625.00" font-size="8.6" text-anchor="end" fill="#111" stroke="#111" stroke-width="0.22" transform="rotate(-54 152.05 625.00)" >Stv 24</text>
<rect x="161.20" y="586.74" width="9.40" height="25.96" fill="#3a3a3a" />
<line x1="165.90" y1="582.75" x2="165.90" y2="590.74" stroke="#111" stroke-width="1.4" />
<line x1="164.20" y1="582.75" x2="167.60" y2="582.75" stroke="#111" stroke-width="1.4" />
<line x1="164.20" y1="590.74" x2="167.60" y2="590.74" stroke="#111" stroke-width="1.4" />
<text x="170.70" y="625.00" font-size="8.6" text-anchor="end" fill="#111" stroke="#111" stroke-width="0.22" transform="rotate(-54 170.70 625.00)" >Stv 72</text>
<rect x="179.20" y="546.14" width="9.80" height="66.56" fill="#3a3a3a" />
<line x1="184.10" y1="542.15" x2="184.10" y2="550.13" stroke="#111" stroke-width="1.4" />
<line x1="182.40" y1="542.15" x2="185.80" y2="542.15" stroke="#111" stroke-width="1.4" />
<line x1="182.40" y1="550.13" x2="185.80" y2="550.13" stroke="#111" stroke-width="1.4" />
<text x="188.90" y="625.00" font-size="8.6" text-anchor="end" fill="#111" stroke="#111" stroke-width="0.22" transform="rotate(-54 188.90 625.00)" >Re 48</text>
<line x1="139.50" y1="529.50" x2="139.50" y2="612.70" stroke="#8c8c8c" stroke-width="1.0" />
<line x1="139.40" y1="612.50" x2="194.00" y2="612.50" stroke="#8c8c8c" stroke-width="1.0" />
<path d="M146.30 525.60 V523.60 Q146.30 522.10 147.80 522.10 H186.80 Q188.30 522.10 188.30 523.60 V525.60" fill="none" stroke="#2a2a2a" stroke-width="1.15"/>
<text x="167.55" y="522.47" font-size="10.5" text-anchor="middle" fill="#666" font-weight="bold" letter-spacing="2.1" stroke-width="0">**</text>
<path d="M144.20 552.30 V550.10 Q144.20 548.60 145.70 548.60 H167.00 Q168.50 548.60 168.50 550.10 V552.30" fill="none" stroke="#2a2a2a" stroke-width="1.15"/>
<text x="157.65" y="547.27" font-size="10.5" text-anchor="middle" fill="#666" font-weight="bold" letter-spacing="2.1" stroke-width="0">***</text>
<text x="215.50" y="615.10" font-size="7.8" text-anchor="middle" fill="#222" stroke="#222" stroke-width="0.22" >0</text>
<line x1="225.70" y1="592.50" x2="280.00" y2="592.50" stroke="#9a9a9a" stroke-width="1.0" />
<text x="215.50" y="594.25" font-size="7.8" text-anchor="middle" fill="#222" stroke="#222" stroke-width="0.22" >5</text>
<line x1="225.70" y1="571.50" x2="280.00" y2="571.50" stroke="#9a9a9a" stroke-width="1.0" />
<text x="215.50" y="573.40" font-size="7.8" text-anchor="middle" fill="#222" stroke="#222" stroke-width="0.22" >10</text>
<line x1="225.70" y1="550.50" x2="280.00" y2="550.50" stroke="#9a9a9a" stroke-width="1.0" />
<text x="215.50" y="552.55" font-size="7.8" text-anchor="middle" fill="#222" stroke="#222" stroke-width="0.22" >15</text>
<line x1="225.70" y1="529.50" x2="280.00" y2="529.50" stroke="#9a9a9a" stroke-width="1.0" />
<text x="215.50" y="531.70" font-size="7.8" text-anchor="middle" fill="#222" stroke="#222" stroke-width="0.22" >20</text>
<rect x="230.40" y="558.40" width="9.50" height="54.50" fill="#3a3a3a" />
<line x1="235.15" y1="556.40" x2="235.15" y2="560.57" stroke="#111" stroke-width="1.4" />
<line x1="233.45" y1="556.40" x2="236.85" y2="556.40" stroke="#111" stroke-width="1.4" />
<line x1="233.45" y1="560.57" x2="236.85" y2="560.57" stroke="#111" stroke-width="1.4" />
<text x="239.95" y="625.20" font-size="8.6" text-anchor="end" fill="#111" stroke="#111" stroke-width="0.22" transform="rotate(-54 239.95 625.20)" >Stv 24</text>
<rect x="248.30" y="566.20" width="9.80" height="46.70" fill="#3a3a3a" />
<line x1="253.20" y1="561.61" x2="253.20" y2="570.99" stroke="#111" stroke-width="1.4" />
<line x1="251.50" y1="561.61" x2="254.90" y2="561.61" stroke="#111" stroke-width="1.4" />
<line x1="251.50" y1="570.99" x2="254.90" y2="570.99" stroke="#111" stroke-width="1.4" />
<text x="258.00" y="625.20" font-size="8.6" text-anchor="end" fill="#111" stroke="#111" stroke-width="0.22" transform="rotate(-54 258.00 625.20)" >Stv 72</text>
<rect x="266.40" y="550.35" width="9.50" height="62.55" fill="#3a3a3a" />
<line x1="271.15" y1="545.76" x2="271.15" y2="553.69" stroke="#111" stroke-width="1.4" />
<line x1="269.45" y1="545.76" x2="272.85" y2="545.76" stroke="#111" stroke-width="1.4" />
<line x1="269.45" y1="553.69" x2="272.85" y2="553.69" stroke="#111" stroke-width="1.4" />
<text x="275.95" y="625.20" font-size="8.6" text-anchor="end" fill="#111" stroke="#111" stroke-width="0.22" transform="rotate(-54 275.95 625.20)" >Re 48</text>
<line x1="225.50" y1="529.50" x2="225.50" y2="612.90" stroke="#8c8c8c" stroke-width="1.0" />
<line x1="225.70" y1="612.50" x2="280.00" y2="612.50" stroke="#8c8c8c" stroke-width="1.0" />
<path d="M233.20 525.60 V523.60 Q233.20 522.10 234.70 522.10 H274.10 Q275.60 522.10 275.60 523.60 V525.60" fill="none" stroke="#2a2a2a" stroke-width="1.15"/>
<text x="254.05" y="523.07" font-size="10.5" text-anchor="middle" fill="#666" font-weight="bold" letter-spacing="2.1" stroke-width="0">*</text>
<path d="M232.50 547.80 V545.80 Q232.50 544.30 234.00 544.30 H254.80 Q256.30 544.30 256.30 545.80 V547.80" fill="none" stroke="#2a2a2a" stroke-width="1.15"/>
<text x="244.85" y="546.27" font-size="10.5" text-anchor="middle" fill="#666" font-weight="bold" letter-spacing="2.1" stroke-width="0">*</text>
<text x="284.50" y="30.60" font-size="17" text-anchor="start" fill="#000" stroke="#000" stroke-width="0.22" font-weight="bold" >C</text>
<text x="302.00" y="38.80" font-size="10.5" text-anchor="start" fill="#000" stroke="#000" stroke-width="0.22" >3 h</text>
<text x="341.20" y="49.80" font-size="9.8" text-anchor="middle" fill="#000" stroke="#000" stroke-width="0.22" >NUGC3</text>
<text x="407.90" y="49.80" font-size="9.8" text-anchor="middle" fill="#000" stroke="#000" stroke-width="0.22" >KE39</text>
<text x="486.00" y="49.80" font-size="9.9" text-anchor="middle" fill="#000" stroke="#000" stroke-width="0.22" >KATOIII</text>
<text x="317.30" y="58.80" font-size="6" text-anchor="start" fill="#111" stroke="#111" stroke-width="0.22" >x10<tspan font-size="3.6" dy="-1.8">4</tspan></text>
<text x="380.40" y="58.80" font-size="6" text-anchor="start" fill="#111" stroke="#111" stroke-width="0.22" >x10<tspan font-size="3.6" dy="-1.8">6</tspan></text>
<text x="454.30" y="58.80" font-size="6" text-anchor="start" fill="#111" stroke="#111" stroke-width="0.22" >x10<tspan font-size="3.6" dy="-1.8">4</tspan></text>
<text x="297.70" y="101.00" font-size="9.7" text-anchor="middle" fill="#000" stroke="#000" stroke-width="0.22" font-weight="bold" font-style="italic" transform="rotate(-90 297.70 101.00)" >miR-760/RNU6B</text>
<line x1="319.25" y1="117.50" x2="360.00" y2="117.50" stroke="#5a5a5a" stroke-width="0.9" />
<text x="313.00" y="120.20" font-size="7.8" text-anchor="middle" fill="#111" transform="translate(313.00 0) scale(1.0 1) translate(-313.00 0)">2</text>
<line x1="319.25" y1="92.50" x2="360.00" y2="92.50" stroke="#5a5a5a" stroke-width="0.9" />
<text x="313.00" y="95.20" font-size="7.8" text-anchor="middle" fill="#111" transform="translate(313.00 0) scale(1.0 1) translate(-313.00 0)">4</text>
<line x1="319.25" y1="67.50" x2="360.00" y2="67.50" stroke="#5a5a5a" stroke-width="0.9" />
<text x="313.00" y="70.20" font-size="7.8" text-anchor="middle" fill="#111" transform="translate(313.00 0) scale(1.0 1) translate(-313.00 0)">6</text>
<text x="313.00" y="144.70" font-size="7.8" text-anchor="middle" fill="#111" transform="translate(313.00 0) scale(1.0 1) translate(-313.00 0)">0</text>
<rect x="323.75" y="141.20" width="11.75" height="0.80" fill="#222" />
<rect x="342.00" y="85.12" width="13.50" height="56.88" fill="#000" />
<line x1="348.75" y1="78.25" x2="348.75" y2="85.12" stroke="#000" stroke-width="1.2" />
<line x1="346.75" y1="78.25" x2="350.75" y2="78.25" stroke="#000" stroke-width="1.2" />
<line x1="321.75" y1="67.00" x2="321.75" y2="142.00" stroke="#3a3a3a" stroke-width="1.2" />
<line x1="319.25" y1="142.00" x2="360.00" y2="142.00" stroke="#3a3a3a" stroke-width="1.2" />
<text x="334.62" y="149.50" font-size="8.9" text-anchor="end" fill="#111" stroke="#111" stroke-width="0.22" transform="rotate(-53 334.62 149.50)" >Pre-miR-n.c.</text>
<text x="353.75" y="149.50" font-size="8.9" text-anchor="end" fill="#111" stroke="#111" stroke-width="0.22" transform="rotate(-53 353.75 149.50)" >Pre-miR-760</text>
<text x="350.55" y="77.31" font-size="10.5" text-anchor="middle" fill="#999" font-weight="bold" letter-spacing="2.1" stroke-width="0">***</text>
<line x1="385.90" y1="123.50" x2="427.40" y2="123.50" stroke="#5a5a5a" stroke-width="0.9" />
<text x="381.00" y="126.20" font-size="7.8" text-anchor="middle" fill="#111" transform="translate(381.00 0) scale(0.86 1) translate(-381.00 0)">0.5</text>
<line x1="385.90" y1="104.50" x2="427.40" y2="104.50" stroke="#5a5a5a" stroke-width="0.9" />
<text x="381.00" y="107.20" font-size="7.8" text-anchor="middle" fill="#111" transform="translate(381.00 0) scale(0.86 1) translate(-381.00 0)">1.0</text>
<line x1="385.90" y1="86.50" x2="427.40" y2="86.50" stroke="#5a5a5a" stroke-width="0.9" />
<text x="381.00" y="89.20" font-size="7.8" text-anchor="middle" fill="#111" transform="translate(381.00 0) scale(0.86 1) translate(-381.00 0)">1.5</text>
<line x1="385.90" y1="67.50" x2="427.40" y2="67.50" stroke="#5a5a5a" stroke-width="0.9" />
<text x="381.00" y="70.20" font-size="7.8" text-anchor="middle" fill="#111" transform="translate(381.00 0) scale(0.86 1) translate(-381.00 0)">2.0</text>
<text x="381.00" y="154.00" font-size="7.8" text-anchor="middle" fill="#111" transform="translate(381.00 0) scale(0.86 1) translate(-381.00 0)">0</text>
<rect x="390.50" y="140.70" width="12.00" height="0.80" fill="#222" />
<rect x="410.40" y="90.88" width="14.20" height="50.62" fill="#000" />
<line x1="417.50" y1="87.18" x2="417.50" y2="90.88" stroke="#000" stroke-width="1.2" />
<line x1="415.50" y1="87.18" x2="419.50" y2="87.18" stroke="#000" stroke-width="1.2" />
<line x1="388.40" y1="67.60" x2="388.40" y2="141.50" stroke="#3a3a3a" stroke-width="1.2" />
<line x1="385.90" y1="141.50" x2="427.40" y2="141.50" stroke="#3a3a3a" stroke-width="1.2" />
<text x="402.90" y="149.00" font-size="8.9" text-anchor="end" fill="#111" stroke="#111" stroke-width="0.22" transform="rotate(-55 402.90 149.00)" >Pre-miR-n.c.</text>
<text x="423.90" y="149.00" font-size="8.9" text-anchor="end" fill="#111" stroke="#111" stroke-width="0.22" transform="rotate(-55 423.90 149.00)" >Pre-miR-760</text>
<text x="418.75" y="81.06" font-size="10.5" text-anchor="middle" fill="#999" font-weight="bold" letter-spacing="2.1" stroke-width="0">***</text>
<line x1="460.30" y1="122.50" x2="501.90" y2="122.50" stroke="#5a5a5a" stroke-width="0.9" />
<text x="454.50" y="125.20" font-size="7.8" text-anchor="middle" fill="#111" transform="translate(454.50 0) scale(1.0 1) translate(-454.50 0)">5</text>
<line x1="460.30" y1="104.50" x2="501.90" y2="104.50" stroke="#5a5a5a" stroke-width="0.9" />
<text x="454.50" y="107.20" font-size="7.8" text-anchor="middle" fill="#111" transform="translate(454.50 0) scale(1.0 1) translate(-454.50 0)">10</text>
<line x1="460.30" y1="85.50" x2="501.90" y2="85.50" stroke="#5a5a5a" stroke-width="0.9" />
<text x="454.50" y="88.20" font-size="7.8" text-anchor="middle" fill="#111" transform="translate(454.50 0) scale(1.0 1) translate(-454.50 0)">15</text>
<line x1="460.30" y1="66.50" x2="501.90" y2="66.50" stroke="#5a5a5a" stroke-width="0.9" />
<text x="454.50" y="69.20" font-size="7.8" text-anchor="middle" fill="#111" transform="translate(454.50 0) scale(1.0 1) translate(-454.50 0)">20</text>
<text x="454.50" y="154.60" font-size="7.8" text-anchor="middle" fill="#111" transform="translate(454.50 0) scale(1.0 1) translate(-454.50 0)">0</text>
<rect x="465.00" y="140.70" width="12.00" height="0.80" fill="#222" />
<rect x="484.60" y="86.22" width="13.90" height="55.28" fill="#000" />
<line x1="491.55" y1="78.75" x2="491.55" y2="86.22" stroke="#000" stroke-width="1.2" />
<line x1="489.55" y1="78.75" x2="493.55" y2="78.75" stroke="#000" stroke-width="1.2" />
<line x1="462.80" y1="66.80" x2="462.80" y2="141.50" stroke="#3a3a3a" stroke-width="1.2" />
<line x1="460.30" y1="141.50" x2="501.90" y2="141.50" stroke="#3a3a3a" stroke-width="1.2" />
<text x="477.40" y="149.00" font-size="8.9" text-anchor="end" fill="#111" stroke="#111" stroke-width="0.22" transform="rotate(-55 477.40 149.00)" >Pre-miR-n.c.</text>
<text x="497.95" y="149.00" font-size="8.9" text-anchor="end" fill="#111" stroke="#111" stroke-width="0.22" transform="rotate(-55 497.95 149.00)" >Pre-miR-760</text>
<text x="493.05" y="78.77" font-size="10.5" text-anchor="middle" fill="#999" font-weight="bold" letter-spacing="2.1" stroke-width="0">***</text>
<text x="298.40" y="237.20" font-size="10.6" text-anchor="middle" fill="#000" stroke="#000" stroke-width="0.22" font-weight="bold" font-style="italic" transform="rotate(-90 298.40 237.20)" textLength="83" lengthAdjust="spacingAndGlyphs">HIST1H3D/GAPDH</text>
<text x="312.30" y="277.70" font-size="8.2" text-anchor="middle" fill="#111" stroke="#111" stroke-width="0.22" transform="translate(312.30 0) scale(0.9 1) translate(-312.30 0)">0</text>
<line x1="318.80" y1="263.50" x2="362.50" y2="263.50" stroke="#8c8c8c" stroke-width="1.0" />
<text x="312.30" y="265.28" font-size="8.2" text-anchor="middle" fill="#111" stroke="#111" stroke-width="0.22" transform="translate(312.30 0) scale(0.9 1) translate(-312.30 0)">0.1</text>
<line x1="318.80" y1="250.50" x2="362.50" y2="250.50" stroke="#8c8c8c" stroke-width="1.0" />
<text x="312.30" y="252.87" font-size="8.2" text-anchor="middle" fill="#111" stroke="#111" stroke-width="0.22" transform="translate(312.30 0) scale(0.9 1) translate(-312.30 0)">0.2</text>
<line x1="318.80" y1="238.50" x2="362.50" y2="238.50" stroke="#8c8c8c" stroke-width="1.0" />
<text x="312.30" y="240.45" font-size="8.2" text-anchor="middle" fill="#111" stroke="#111" stroke-width="0.22" transform="translate(312.30 0) scale(0.9 1) translate(-312.30 0)">0.3</text>
<line x1="318.80" y1="225.50" x2="362.50" y2="225.50" stroke="#8c8c8c" stroke-width="1.0" />
<text x="312.30" y="228.03" font-size="8.2" text-anchor="middle" fill="#111" stroke="#111" stroke-width="0.22" transform="translate(312.30 0) scale(0.9 1) translate(-312.30 0)">0.4</text>
<line x1="318.80" y1="213.50" x2="362.50" y2="213.50" stroke="#8c8c8c" stroke-width="1.0" />
<text x="312.30" y="215.62" font-size="8.2" text-anchor="middle" fill="#111" stroke="#111" stroke-width="0.22" transform="translate(312.30 0) scale(0.9 1) translate(-312.30 0)">0.5</text>
<line x1="318.80" y1="201.50" x2="362.50" y2="201.50" stroke="#8c8c8c" stroke-width="1.0" />
<text x="312.30" y="203.20" font-size="8.2" text-anchor="middle" fill="#111" stroke="#111" stroke-width="0.22" transform="translate(312.30 0) scale(0.9 1) translate(-312.30 0)">0.6</text>
<rect x="326.25" y="219.62" width="13.00" height="55.88" fill="#a9a9a9" />
<line x1="332.75" y1="213.79" x2="332.75" y2="224.59" stroke="#111" stroke-width="1.4" />
<line x1="331.05" y1="213.79" x2="334.45" y2="213.79" stroke="#111" stroke-width="1.4" />
<line x1="331.05" y1="224.59" x2="334.45" y2="224.59" stroke="#111" stroke-width="1.4" />
<text x="334.00" y="284.60" font-size="8.9" text-anchor="end" fill="#111" stroke="#111" stroke-width="0.22" transform="rotate(-54.5 334.00 284.60)" >Pre-miR-n.c.</text>
<rect x="346.25" y="232.04" width="13.25" height="43.46" fill="#a9a9a9" />
<line x1="352.88" y1="231.67" x2="352.88" y2="232.41" stroke="#111" stroke-width="1.4" />
<line x1="351.18" y1="231.67" x2="354.57" y2="231.67" stroke="#111" stroke-width="1.4" />
<line x1="351.18" y1="232.41" x2="354.57" y2="232.41" stroke="#111" stroke-width="1.4" />
<text x="354.80" y="284.60" font-size="8.9" text-anchor="end" fill="#111" stroke="#111" stroke-width="0.22" transform="rotate(-54.5 354.80 284.60)" >Pre-miR-760</text>
<line x1="321.50" y1="201.00" x2="321.50" y2="277.50" stroke="#8c8c8c" stroke-width="1.0" />
<line x1="318.80" y1="275.50" x2="362.50" y2="275.50" stroke="#8c8c8c" stroke-width="1.0" />
<text x="353.55" y="215.06" font-size="10.5" text-anchor="middle" fill="#555" font-weight="bold" letter-spacing="2.1" stroke-width="0">*</text>
<text x="380.00" y="279.80" font-size="8.2" text-anchor="middle" fill="#111" stroke="#111" stroke-width="0.22" transform="translate(380.00 0) scale(0.9 1) translate(-380.00 0)">0</text>
<line x1="387.30" y1="261.50" x2="432.20" y2="261.50" stroke="#8c8c8c" stroke-width="1.0" />
<text x="380.00" y="264.18" font-size="8.2" text-anchor="middle" fill="#111" stroke="#111" stroke-width="0.22" transform="translate(380.00 0) scale(0.9 1) translate(-380.00 0)">0.1</text>
<line x1="387.30" y1="246.50" x2="432.20" y2="246.50" stroke="#8c8c8c" stroke-width="1.0" />
<text x="380.00" y="248.56" font-size="8.2" text-anchor="middle" fill="#111" stroke="#111" stroke-width="0.22" transform="translate(380.00 0) scale(0.9 1) translate(-380.00 0)">0.2</text>
<line x1="387.30" y1="230.50" x2="432.20" y2="230.50" stroke="#8c8c8c" stroke-width="1.0" />
<text x="380.00" y="232.94" font-size="8.2" text-anchor="middle" fill="#111" stroke="#111" stroke-width="0.22" transform="translate(380.00 0) scale(0.9 1) translate(-380.00 0)">0.3</text>
<line x1="387.30" y1="215.50" x2="432.20" y2="215.50" stroke="#8c8c8c" stroke-width="1.0" />
<text x="380.00" y="217.32" font-size="8.2" text-anchor="middle" fill="#111" stroke="#111" stroke-width="0.22" transform="translate(380.00 0) scale(0.9 1) translate(-380.00 0)">0.4</text>
<line x1="387.30" y1="199.50" x2="432.20" y2="199.50" stroke="#8c8c8c" stroke-width="1.0" />
<text x="380.00" y="201.70" font-size="8.2" text-anchor="middle" fill="#111" stroke="#111" stroke-width="0.22" transform="translate(380.00 0) scale(0.9 1) translate(-380.00 0)">0.5</text>
<rect x="394.00" y="220.90" width="13.60" height="56.70" fill="#a9a9a9" />
<line x1="400.80" y1="217.46" x2="400.80" y2="224.18" stroke="#111" stroke-width="1.4" />
<line x1="399.10" y1="217.46" x2="402.50" y2="217.46" stroke="#111" stroke-width="1.4" />
<line x1="399.10" y1="224.18" x2="402.50" y2="224.18" stroke="#111" stroke-width="1.4" />
<text x="403.20" y="284.20" font-size="8.9" text-anchor="end" fill="#111" stroke="#111" stroke-width="0.22" transform="rotate(-55.5 403.20 284.20)" >Pre-miR-n.c.</text>
<rect x="414.90" y="236.99" width="13.10" height="40.61" fill="#a9a9a9" />
<line x1="421.45" y1="231.83" x2="421.45" y2="242.14" stroke="#111" stroke-width="1.4" />
<line x1="419.75" y1="231.83" x2="423.15" y2="231.83" stroke="#111" stroke-width="1.4" />
<line x1="419.75" y1="242.14" x2="423.15" y2="242.14" stroke="#111" stroke-width="1.4" />
<text x="425.50" y="284.20" font-size="8.9" text-anchor="end" fill="#111" stroke="#111" stroke-width="0.22" transform="rotate(-55.5 425.50 284.20)" >Pre-miR-760</text>
<line x1="389.50" y1="199.50" x2="389.50" y2="279.60" stroke="#8c8c8c" stroke-width="1.0" />
<line x1="387.30" y1="277.50" x2="432.20" y2="277.50" stroke="#8c8c8c" stroke-width="1.0" />
<text x="422.85" y="215.37" font-size="10.5" text-anchor="middle" fill="#555" font-weight="bold" letter-spacing="2.1" stroke-width="0">*</text>
<text x="449.00" y="279.80" font-size="8.2" text-anchor="start" fill="#111" stroke="#111" stroke-width="0.22" transform="translate(449.00 0) scale(0.9 1) translate(-449.00 0)">0</text>
<line x1="464.80" y1="258.50" x2="506.60" y2="258.50" stroke="#8c8c8c" stroke-width="1.0" />
<text x="449.00" y="260.28" font-size="8.2" text-anchor="start" fill="#111" stroke="#111" stroke-width="0.22" transform="translate(449.00 0) scale(0.9 1) translate(-449.00 0)">0.05</text>
<line x1="464.80" y1="238.50" x2="506.60" y2="238.50" stroke="#8c8c8c" stroke-width="1.0" />
<text x="449.00" y="240.75" font-size="8.2" text-anchor="start" fill="#111" stroke="#111" stroke-width="0.22" transform="translate(449.00 0) scale(0.9 1) translate(-449.00 0)">0.1</text>
<line x1="464.80" y1="219.50" x2="506.60" y2="219.50" stroke="#8c8c8c" stroke-width="1.0" />
<text x="449.00" y="221.22" font-size="8.2" text-anchor="start" fill="#111" stroke="#111" stroke-width="0.22" transform="translate(449.00 0) scale(0.9 1) translate(-449.00 0)">0.15</text>
<line x1="464.80" y1="199.50" x2="506.60" y2="199.50" stroke="#8c8c8c" stroke-width="1.0" />
<text x="449.00" y="201.70" font-size="8.2" text-anchor="start" fill="#111" stroke="#111" stroke-width="0.22" transform="translate(449.00 0) scale(0.9 1) translate(-449.00 0)">0.2</text>
<rect x="471.20" y="219.42" width="12.60" height="58.18" fill="#a9a9a9" />
<line x1="477.50" y1="211.22" x2="477.50" y2="227.62" stroke="#111" stroke-width="1.4" />
<line x1="475.80" y1="211.22" x2="479.20" y2="211.22" stroke="#111" stroke-width="1.4" />
<line x1="475.80" y1="227.62" x2="479.20" y2="227.62" stroke="#111" stroke-width="1.4" />
<text x="478.50" y="284.20" font-size="8.9" text-anchor="end" fill="#111" stroke="#111" stroke-width="0.22" transform="rotate(-55.5 478.50 284.20)" >Pre-miR-n.c.</text>
<rect x="490.70" y="246.36" width="12.60" height="31.24" fill="#a9a9a9" />
<line x1="497.00" y1="237.38" x2="497.00" y2="254.95" stroke="#111" stroke-width="1.4" />
<line x1="495.30" y1="237.38" x2="498.70" y2="237.38" stroke="#111" stroke-width="1.4" />
<line x1="495.30" y1="254.95" x2="498.70" y2="254.95" stroke="#111" stroke-width="1.4" />
<text x="500.30" y="284.20" font-size="8.9" text-anchor="end" fill="#111" stroke="#111" stroke-width="0.22" transform="rotate(-55.5 500.30 284.20)" >Pre-miR-760</text>
<line x1="467.50" y1="199.50" x2="467.50" y2="279.60" stroke="#8c8c8c" stroke-width="1.0" />
<line x1="464.80" y1="277.50" x2="506.60" y2="277.50" stroke="#8c8c8c" stroke-width="1.0" />
<text x="498.15" y="216.26" font-size="10.5" text-anchor="middle" fill="#555" font-weight="bold" letter-spacing="2.1" stroke-width="0">*</text>
<text x="310.20" y="364.00" font-size="11.7" text-anchor="start" fill="#000" stroke="#000" stroke-width="0.22" >48 h</text>
<text x="294.20" y="398.90" font-size="11" text-anchor="start" fill="#000" stroke="#000" stroke-width="0.22" font-weight="bold" textLength="46" lengthAdjust="spacingAndGlyphs">HIST1H3D</text>
<text x="309.20" y="424.60" font-size="11" text-anchor="start" fill="#000" stroke="#000" stroke-width="0.22" font-weight="bold" textLength="23.2" lengthAdjust="spacingAndGlyphs">Actin</text>
<linearGradient id="bg1" x1="0" y1="0" x2="0" y2="1"><stop offset="0" stop-color="#cbcbcb"/><stop offset="0.5" stop-color="#d8d8d8"/><stop offset="1" stop-color="#e0e0e0"/></linearGradient>
<rect x="346.80" y="384.00" width="146.40" height="21.20" fill="url(#bg1)" />
<rect x="346.80" y="410.30" width="146.40" height="18.60" fill="#dadada" />
<g filter="url(#b1)">
<ellipse cx="360.3" cy="388.5" rx="6" ry="2.2" fill="#ececec" opacity="0.55"/>
<ellipse cx="382.6" cy="388.5" rx="6" ry="2.2" fill="#ececec" opacity="0.55"/>
<ellipse cx="405.8" cy="388.5" rx="6" ry="2.2" fill="#ececec" opacity="0.55"/>
<ellipse cx="429.2" cy="388.5" rx="6" ry="2.2" fill="#ececec" opacity="0.55"/>
<ellipse cx="453.8" cy="388.5" rx="6" ry="2.2" fill="#ececec" opacity="0.55"/>
<ellipse cx="478.4" cy="388.5" rx="6" ry="2.2" fill="#ececec" opacity="0.55"/>
<path d="M352.6 390.1 Q360.3 393.1 368.1 390.1 L368.1 392.7 Q360.3 398.0 352.6 392.7 Z" fill="#101010" stroke="#101010" stroke-width="1.6" stroke-linejoin="round" opacity="1"/>
<path d="M375.1 393.0 Q382.6 396.2 390.1 393.0 L390.1 393.9 Q382.6 398.5 375.1 393.9 Z" fill="#444" stroke="#444" stroke-width="1.2" stroke-linejoin="round" opacity="0.85"/>
<path d="M398.1 389.4 Q405.8 392.6 413.6 389.4 L413.6 392.1 Q405.8 397.5 398.1 392.1 Z" fill="#0e0e0e" stroke="#0e0e0e" stroke-width="1.6" stroke-linejoin="round" opacity="1"/>
<path d="M421.9 391.5 Q429.2 394.7 436.4 391.5 L436.4 393.5 Q429.2 398.3 421.9 393.5 Z" fill="#1a1a1a" stroke="#1a1a1a" stroke-width="1.6" stroke-linejoin="round" opacity="1"/>
<path d="M445.1 392.2 Q453.8 395.4 462.6 392.2 L462.6 395.4 Q453.8 401.4 445.1 395.4 Z" fill="#080808" stroke="#080808" stroke-width="1.6" stroke-linejoin="round" opacity="1"/>
<path d="M468.9 390.5 Q478.4 394.3 487.9 390.5 L487.9 394.4 Q478.4 401.6 468.9 394.4 Z" fill="#050505" stroke="#050505" stroke-width="1.6" stroke-linejoin="round" opacity="1"/>
</g>
<g filter="url(#b2)">
<path d="M351.1 415.8 Q360.0 418.2 368.9 415.8 L368.9 420.8 Q360.0 426.5 351.1 420.8 Z" fill="#060606" stroke="#060606" stroke-width="2.0" stroke-linejoin="round" opacity="1"/>
<path d="M375.8 415.8 Q384.6 418.2 393.5 415.8 L393.5 420.8 Q384.6 426.5 375.8 420.8 Z" fill="#060606" stroke="#060606" stroke-width="2.0" stroke-linejoin="round" opacity="1"/>
<path d="M399.0 415.8 Q408.1 418.2 417.2 415.8 L417.2 420.8 Q408.1 426.5 399.0 420.8 Z" fill="#060606" stroke="#060606" stroke-width="2.0" stroke-linejoin="round" opacity="1"/>
<path d="M422.8 415.8 Q431.9 418.2 441.0 415.8 L441.0 420.8 Q431.9 426.5 422.8 420.8 Z" fill="#060606" stroke="#060606" stroke-width="2.0" stroke-linejoin="round" opacity="1"/>
<path d="M445.9 415.8 Q454.1 418.2 462.4 415.8 L462.4 420.8 Q454.1 426.5 445.9 420.8 Z" fill="#060606" stroke="#060606" stroke-width="2.0" stroke-linejoin="round" opacity="1"/>
<path d="M469.0 415.8 Q477.4 418.2 485.8 415.8 L485.8 420.8 Q477.4 426.5 469.0 420.8 Z" fill="#060606" stroke="#060606" stroke-width="2.0" stroke-linejoin="round" opacity="1"/>
</g>
<text x="361.50" y="380.00" font-size="9.1" text-anchor="start" fill="#111" stroke="#111" stroke-width="0.22" transform="rotate(-56 361.50 380.00)" >Pre-miR-n.c.</text>
<text x="384.00" y="380.00" font-size="9.1" text-anchor="start" fill="#111" stroke="#111" stroke-width="0.22" transform="rotate(-56 384.00 380.00)" >Pre-miR-760</text>
<text x="407.50" y="380.00" font-size="9.1" text-anchor="start" fill="#111" stroke="#111" stroke-width="0.22" transform="rotate(-56 407.50 380.00)" >Pre-miR-n.c.</text>
<text x="430.70" y="380.00" font-size="9.1" text-anchor="start" fill="#111" stroke="#111" stroke-width="0.22" transform="rotate(-56 430.70 380.00)" >Pre-miR-760</text>
<text x="454.20" y="380.00" font-size="9.1" text-anchor="start" fill="#111" stroke="#111" stroke-width="0.22" transform="rotate(-56 454.20 380.00)" >Pre-miR-n.c.</text>
<text x="477.50" y="380.00" font-size="9.1" text-anchor="start" fill="#111" stroke="#111" stroke-width="0.22" transform="rotate(-56 477.50 380.00)" >Pre-miR-760</text>
<text x="372.90" y="443.60" font-size="10.2" text-anchor="middle" fill="#000" stroke="#000" stroke-width="0.22" >NUGC3</text>
<text x="419.60" y="443.60" font-size="10.2" text-anchor="middle" fill="#000" stroke="#000" stroke-width="0.22" >KE39</text>
<text x="469.80" y="443.60" font-size="10.2" text-anchor="middle" fill="#000" stroke="#000" stroke-width="0.22" >KATOIII</text>
<text x="321.30" y="489.00" font-size="9.0" text-anchor="middle" fill="#000" stroke="#000" stroke-width="0.22" font-weight="bold" transform="rotate(-90 321.30 489.00)" >HIST1H3D/Actin</text>
<text x="339.4" y="516.80" font-size="6.6" text-anchor="middle" fill="#222" transform="translate(339.4 0) scale(1.45 1) translate(-339.4 0)">0</text>
<line x1="350.40" y1="508.10" x2="491.00" y2="508.10" stroke="#dedede" stroke-width="0.7" />
<text x="339.4" y="509.70" font-size="6.6" text-anchor="middle" fill="#222" transform="translate(339.4 0) scale(1.45 1) translate(-339.4 0)">0.2</text>
<line x1="350.40" y1="501.00" x2="491.00" y2="501.00" stroke="#dedede" stroke-width="0.7" />
<text x="339.4" y="502.60" font-size="6.6" text-anchor="middle" fill="#222" transform="translate(339.4 0) scale(1.45 1) translate(-339.4 0)">0.4</text>
<line x1="350.40" y1="493.90" x2="491.00" y2="493.90" stroke="#dedede" stroke-width="0.7" />
<text x="339.4" y="495.50" font-size="6.6" text-anchor="middle" fill="#222" transform="translate(339.4 0) scale(1.45 1) translate(-339.4 0)">0.6</text>
<line x1="350.40" y1="486.80" x2="491.00" y2="486.80" stroke="#dedede" stroke-width="0.7" />
<text x="339.4" y="488.40" font-size="6.6" text-anchor="middle" fill="#222" transform="translate(339.4 0) scale(1.45 1) translate(-339.4 0)">0.8</text>
<line x1="350.40" y1="479.70" x2="491.00" y2="479.70" stroke="#dedede" stroke-width="0.7" />
<text x="339.4" y="481.30" font-size="6.6" text-anchor="middle" fill="#222" transform="translate(339.4 0) scale(1.45 1) translate(-339.4 0)">1</text>
<line x1="350.40" y1="472.60" x2="491.00" y2="472.60" stroke="#dedede" stroke-width="0.7" />
<text x="339.4" y="474.20" font-size="6.6" text-anchor="middle" fill="#222" transform="translate(339.4 0) scale(1.45 1) translate(-339.4 0)">1.2</text>
<line x1="350.40" y1="465.50" x2="491.00" y2="465.50" stroke="#dedede" stroke-width="0.7" />
<text x="339.4" y="467.10" font-size="6.6" text-anchor="middle" fill="#222" transform="translate(339.4 0) scale(1.45 1) translate(-339.4 0)">1.4</text>
<line x1="350.40" y1="458.40" x2="491.00" y2="458.40" stroke="#dedede" stroke-width="0.7" />
<text x="339.4" y="460.00" font-size="6.6" text-anchor="middle" fill="#222" transform="translate(339.4 0) scale(1.45 1) translate(-339.4 0)">1.6</text>
<line x1="350.40" y1="451.30" x2="491.00" y2="451.30" stroke="#dedede" stroke-width="0.7" />
<text x="339.4" y="452.90" font-size="6.6" text-anchor="middle" fill="#222" transform="translate(339.4 0) scale(1.45 1) translate(-339.4 0)">1.8</text>
<rect x="351.50" y="479.70" width="18.50" height="35.50" fill="#d4d4d4" />
<rect x="375.30" y="488.57" width="18.50" height="26.63" fill="#333" />
<rect x="399.25" y="479.70" width="17.75" height="35.50" fill="#d4d4d4" />
<rect x="422.50" y="488.75" width="18.25" height="26.45" fill="#333" />
<rect x="445.50" y="479.70" width="18.25" height="35.50" fill="#d4d4d4" />
<rect x="469.25" y="458.40" width="18.25" height="56.80" fill="#333" />
<line x1="350.40" y1="515.20" x2="491.00" y2="515.20" stroke="#c8c8c8" stroke-width="0.7" />
<line x1="353.80" y1="519.80" x2="393.00" y2="519.80" stroke="#8a8a8a" stroke-width="1.5" />
<line x1="400.00" y1="519.80" x2="438.75" y2="519.80" stroke="#8a8a8a" stroke-width="1.5" />
<line x1="446.25" y1="519.80" x2="485.00" y2="519.80" stroke="#8a8a8a" stroke-width="1.5" />
<text x="372.90" y="533.00" font-size="10.8" text-anchor="middle" fill="#000" stroke="#000" stroke-width="0.22" >NUGC3</text>
<text x="420.00" y="533.00" font-size="10.8" text-anchor="middle" fill="#000" stroke="#000" stroke-width="0.22" >KE39</text>
<text x="468.70" y="533.00" font-size="10.8" text-anchor="middle" fill="#000" stroke="#000" stroke-width="0.22" >KATOIII</text>
<rect x="372.00" y="538.00" width="9.30" height="8.60" fill="#dedede" stroke="#aaa" stroke-width="0.6" />
<rect x="442.80" y="538.00" width="8.80" height="8.60" fill="#555" />
<text x="388.50" y="545.40" font-size="7.9" text-anchor="start" fill="#000" stroke="#000" stroke-width="0.22" font-weight="bold" >Pre-miR n.c.</text>
<text x="458.40" y="545.40" font-size="7.9" text-anchor="start" fill="#000" stroke="#000" stroke-width="0.22" font-weight="bold" >Pre-miR 760</text>
<text x="292.50" y="571.80" font-size="17" text-anchor="start" fill="#000" stroke="#000" stroke-width="0.22" font-weight="bold" >D</text>
<text x="297.70" y="600.30" font-size="11.7" text-anchor="start" fill="#000" stroke="#000" stroke-width="0.22" font-style="italic" >miR-760</text>
<text x="297.70" y="614.30" font-size="11.7" text-anchor="start" fill="#000" stroke="#000" stroke-width="0.22" >binding site</text>
<rect x="442.50" y="576.50" width="16.50" height="16.00" fill="#d6d6d6" />
<rect x="432.30" y="592.50" width="18.50" height="74.80" fill="#d6d6d6" />
<rect x="432.30" y="650.40" width="25.50" height="16.90" fill="#d6d6d6" />
<text x="409.20" y="572.30" font-size="9.8" text-anchor="middle" fill="#000" stroke="#000" stroke-width="0.22" >U</text>
<text x="439.40" y="572.30" font-size="9.8" text-anchor="middle" fill="#000" stroke="#000" stroke-width="0.22" >U</text>
<text x="395.40" y="588.30" font-size="9.8" text-anchor="middle" fill="#000" stroke="#000" stroke-width="0.22" >U</text>
<text x="450.20" y="588.30" font-size="9.8" text-anchor="middle" fill="#000" stroke="#000" stroke-width="0.22" >C</text>
<text x="410.80" y="604.70" font-size="9.8" text-anchor="middle" fill="#000" stroke="#000" stroke-width="0.22" >U</text>
<text x="440.60" y="604.70" font-size="9.8" text-anchor="middle" fill="#000" stroke="#000" stroke-width="0.22" >A</text>
<line x1="419.30" y1="601.20" x2="427.00" y2="601.20" stroke="#bdbdbd" stroke-width="1" />
<text x="410.80" y="616.00" font-size="9.8" text-anchor="middle" fill="#000" stroke="#000" stroke-width="0.22" >C</text>
<text x="440.60" y="616.00" font-size="9.8" text-anchor="middle" fill="#000" stroke="#000" stroke-width="0.22" >G</text>
<line x1="419.30" y1="612.50" x2="427.00" y2="612.50" stroke="#bdbdbd" stroke-width="1" />
<text x="410.80" y="627.10" font-size="9.8" text-anchor="middle" fill="#000" stroke="#000" stroke-width="0.22" >U</text>
<text x="440.60" y="627.10" font-size="9.8" text-anchor="middle" fill="#000" stroke="#000" stroke-width="0.22" >A</text>
<line x1="419.30" y1="623.60" x2="427.00" y2="623.60" stroke="#bdbdbd" stroke-width="1" />
<text x="410.80" y="638.30" font-size="9.8" text-anchor="middle" fill="#000" stroke="#000" stroke-width="0.22" >C</text>
<text x="440.60" y="638.30" font-size="9.8" text-anchor="middle" fill="#000" stroke="#000" stroke-width="0.22" >G</text>
<line x1="419.30" y1="634.80" x2="427.00" y2="634.80" stroke="#bdbdbd" stroke-width="1" />
<text x="410.80" y="649.90" font-size="9.8" text-anchor="middle" fill="#000" stroke="#000" stroke-width="0.22" >G</text>
<text x="440.60" y="649.90" font-size="9.8" text-anchor="middle" fill="#000" stroke="#000" stroke-width="0.22" >C</text>
<line x1="419.30" y1="646.40" x2="427.00" y2="646.40" stroke="#bdbdbd" stroke-width="1" />
<line x1="419.30" y1="659.30" x2="427.00" y2="659.30" stroke="#bdbdbd" stroke-width="1" />
<text x="366.20" y="662.20" font-size="9.8" text-anchor="start" fill="#111" stroke="#111" stroke-width="0.22" textLength="49.5" lengthAdjust="spacing">CCAAAG</text>
<text x="437.00" y="662.20" font-size="9.8" text-anchor="start" fill="#111" stroke="#111" stroke-width="0.22" textLength="15.5" lengthAdjust="spacing">CA</text>
<text x="458.50" y="662.20" font-size="9.8" text-anchor="start" fill="#111" stroke="#111" stroke-width="0.22" textLength="33.5" lengthAdjust="spacing">CCCA</text>
</svg>
</body></html>
